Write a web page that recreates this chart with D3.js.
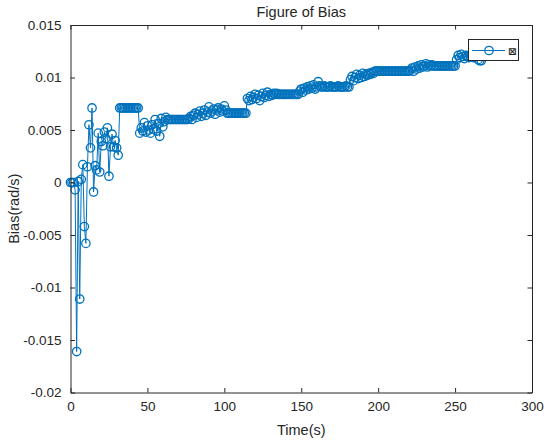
<!DOCTYPE html>
<html><head><meta charset="utf-8">
<script src="https://cdn.jsdelivr.net/npm/d3@7"></script>
<style>
html,body{margin:0;padding:0;background:#fff;}
text{font-family:"Liberation Sans",Arial,sans-serif;fill:#262626;}
</style></head>
<body><svg id="c" width="550" height="442"></svg>
<script>
const title = "Figure of Bias";
const xLabel = "Time(s)";
const yLabel = "Bias(rad/s)";
const legendLabel = "⊠";
const xTicks = [0, 50, 100, 150, 200, 250, 300];
const yTicks = [-0.02, -0.015, -0.01, -0.005, 0, 0.005, 0.01, 0.015];
const yTickLabels = ["-0.02", "-0.015", "-0.01", "-0.005", "0", "0.005", "0.01", "0.015"];
// bias samples, one per second starting at t = 0
const bias = [
 0, 0, 0, -0.0007, -0.0161, 0.0001, -0.0111, 0.0003, 0.0017, -0.0042,
 -0.0058, 0.0015, 0.0055, 0.0033, 0.0071, -0.0009, 0.0016, 0.0012, 0.0047, 0.0010,
 0.0039, 0.0035, 0.0048, 0.0042, 0.0052, 0.0006, 0.0034, 0.0046, 0.0034, 0.0040,
 0.0033, 0.0026,
 0.0071, 0.0071, 0.0071, 0.0071, 0.0071, 0.0071, 0.0071, 0.0071, 0.0071, 0.0071, 0.0071, 0.0071, 0.0071,
 0.0047, 0.0052, 0.0049, 0.0057, 0.0048, 0.0054, 0.0050, 0.0047, 0.0055, 0.0051, 0.0060, 0.0049, 0.0056, 0.0044, 0.0061, 0.0053, 0.0058, 0.0062,
 0.0060, 0.0060, 0.0060, 0.0060, 0.0060, 0.0060, 0.0060, 0.0060, 0.0060, 0.0060, 0.0060, 0.0060, 0.0060, 0.0060,
 0.0061, 0.0063, 0.0060, 0.0064, 0.0066, 0.0062, 0.0065, 0.0068, 0.0063, 0.0066, 0.0069, 0.0064, 0.0067, 0.0072, 0.0066, 0.0068, 0.0070, 0.0065, 0.0069, 0.0071, 0.0067, 0.0070, 0.0068, 0.0073, 0.0069,
 0.0066, 0.0066, 0.0066, 0.0066, 0.0066, 0.0066, 0.0066, 0.0066, 0.0066, 0.0066, 0.0066, 0.0066, 0.0066,
 0.0080, 0.0078, 0.0082, 0.0079, 0.0081, 0.0084, 0.0080, 0.0083, 0.0078, 0.0082, 0.0085, 0.0081, 0.0083, 0.0086, 0.0082, 0.0084, 0.0083, 0.0085, 0.0084, 0.0085,
 0.0084, 0.0084, 0.0084, 0.0084, 0.0084, 0.0084, 0.0084, 0.0084, 0.0084, 0.0084, 0.0084, 0.0084, 0.0084, 0.0084,
 0.0087, 0.0089, 0.0086, 0.0090, 0.0088, 0.0091, 0.0089, 0.0092, 0.0090, 0.0093, 0.0089, 0.0091, 0.0096, 0.0092,
 0.0091, 0.0091, 0.0092, 0.0091, 0.0091, 0.0091, 0.0092, 0.0091, 0.0091, 0.0091, 0.0091, 0.0092, 0.0091, 0.0091, 0.0091, 0.0091, 0.0092, 0.0091, 0.0091,
 0.0098, 0.0101, 0.0097, 0.0100, 0.0103, 0.0099, 0.0102, 0.0100, 0.0104, 0.0101, 0.0103, 0.0102, 0.0104, 0.0103, 0.0105, 0.0104,
 0.0106, 0.0106, 0.0106, 0.0106, 0.0106, 0.0106, 0.0106, 0.0106, 0.0106, 0.0106, 0.0106, 0.0106, 0.0106, 0.0106, 0.0106, 0.0106, 0.0106, 0.0106, 0.0106, 0.0106, 0.0106, 0.0106, 0.0106,
 0.0107, 0.0109, 0.0106, 0.0110, 0.0108, 0.0111, 0.0109, 0.0112, 0.0110, 0.0111, 0.0113, 0.0110, 0.0112, 0.0111, 0.0112,
 0.0111, 0.0111, 0.0111, 0.0111, 0.0111, 0.0111, 0.0111, 0.0111, 0.0111, 0.0111, 0.0111, 0.0111, 0.0111, 0.0111, 0.0111,
 0.0117, 0.0121, 0.0119, 0.0122, 0.0120, 0.0118, 0.0121, 0.0120, 0.0119, 0.0120, 0.0120, 0.0119, 0.0121, 0.0120, 0.0117, 0.0116, 0.0116
];

const svg = d3.select("#c");
const L = 70.5, R = 532, T = 25, B = 392.5;
const color = "#0072BD", axisColor = "#262626";
const x = d3.scaleLinear().domain([0, 300]).range([L, R]);
const y = d3.scaleLinear().domain([-0.02, 0.015]).range([B, T]);
const data = bias.map((v, i) => ({t: i, v}));

svg.append("rect").attr("x", L).attr("y", T).attr("width", R - L).attr("height", B - T).attr("fill", "#fff");

// data
const line = d3.line().x(d => x(d.t)).y(d => y(d.v));
const g = svg.append("g");
g.append("path").datum(data).attr("d", line).attr("fill", "none").attr("stroke", color).attr("stroke-width", 1);
g.selectAll("circle").data(data).join("circle")
  .attr("cx", d => x(d.t)).attr("cy", d => y(d.v)).attr("r", 4.2)
  .attr("fill", "none").attr("stroke", color).attr("stroke-width", 1.3);

// axes
const tickLen = 4.5;
const xAxisB = d3.axisBottom(x).tickValues(xTicks).tickSizeInner(-tickLen).tickSizeOuter(0).tickPadding(9).tickFormat(d3.format("d"));
const xAxisT = d3.axisTop(x).tickValues(xTicks).tickSizeInner(-tickLen).tickSizeOuter(0).tickFormat("");
const yAxisL = d3.axisLeft(y).tickValues(yTicks).tickSizeInner(-tickLen).tickSizeOuter(0).tickPadding(9).tickFormat((d, i) => yTickLabels[i]);
const yAxisR = d3.axisRight(y).tickValues(yTicks).tickSizeInner(-tickLen).tickSizeOuter(0).tickFormat("");

function style(sel) {
  sel.select(".domain").attr("stroke", axisColor).attr("stroke-width", 1);
  sel.selectAll(".tick line").attr("stroke", axisColor).attr("stroke-width", 1);
  sel.selectAll(".tick text").attr("fill", axisColor).style("font-size", "13.5px").style("font-family", "Liberation Sans, Arial, sans-serif");
}
svg.append("g").attr("transform", `translate(0,${B})`).call(xAxisB).call(style);
svg.append("g").attr("transform", `translate(0,${T})`).call(xAxisT).call(style);
svg.append("g").attr("transform", `translate(${L},0)`).call(yAxisL).call(style);
svg.append("g").attr("transform", `translate(${R},0)`).call(yAxisR).call(style);

// titles
svg.append("text").attr("x", (L + R) / 2).attr("y", 17).attr("text-anchor", "middle").style("font-size", "14.5px").text(title);
svg.append("text").attr("x", (L + R) / 2).attr("y", 435).attr("text-anchor", "middle").style("font-size", "14.5px").text(xLabel);
svg.append("text").attr("transform", `translate(19,${(T + B) / 2}) rotate(-90)`).attr("text-anchor", "middle").style("font-size", "14.5px").text(yLabel);

// legend
const lg = svg.append("g");
lg.append("rect").attr("x", 468.5).attr("y", 39.5).attr("width", 50).attr("height", 21).attr("fill", "#fff").attr("stroke", axisColor).attr("stroke-width", 1);
lg.append("line").attr("x1", 472).attr("x2", 505).attr("y1", 50.5).attr("y2", 50.5).attr("stroke", color).attr("stroke-width", 1);
lg.append("circle").attr("cx", 489).attr("cy", 50.5).attr("r", 4.2).attr("fill", "none").attr("stroke", color).attr("stroke-width", 1.3);
lg.append("text").attr("x", 508).attr("y", 54.5).style("font-size", "10px").style("font-weight", "bold").style("font-family", "DejaVu Sans").text(legendLabel);
</script></body></html>
